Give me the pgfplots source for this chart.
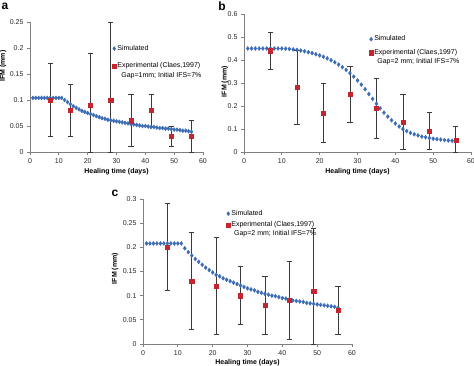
\documentclass[border=0pt]{standalone}
\usepackage{fontspec}
\setmainfont{Liberation Sans}
\usepackage{pgfplots}
\pgfplotsset{compat=1.18}
\usepackage{pgfplotstable}
\definecolor{simblue}{HTML}{3B6CB5}
\definecolor{expred}{HTML}{C4262E}
\definecolor{axgray}{HTML}{808080}
\definecolor{barcol}{HTML}{3A3A3A}

% experimental data: x, y, error plus, error minus
\pgfplotstableread{
x y ep em
7 0.10 0.07 0.07
14 0.08 0.05 0.05
21 0.09 0.10 0.09
28 0.10 0.15 0.10
35 0.06 0.05 0.05
42 0.08 0.03 0.03
49 0.03 0.02 0.02
56 0.03 0.03 0.03
}\expA
\pgfplotstableread{
x y ep em
7 0.44 0.08 0.08
14 0.28 0.16 0.16
21 0.17 0.13 0.13
28 0.25 0.12 0.12
35 0.19 0.13 0.13
42 0.13 0.12 0.12
49 0.09 0.08 0.08
56 0.05 0.06 0.05
}\expB
\pgfplotstableread{
x y ep em
7 0.20 0.09 0.09
14 0.13 0.10 0.10
21 0.12 0.10 0.10
28 0.10 0.06 0.06
35 0.08 0.06 0.06
42 0.09 0.08 0.08
49 0.11 0.13 0.11
56 0.07 0.05 0.05
}\expC

\pgfplotsset{
  panel/.style={
    scale only axis,
    axis x line*=bottom, axis y line*=left,
    axis line style={axgray, line width=0.8pt},
    tick style={axgray, line width=0.8pt},
    tick align=outside,
    major tick length=3pt,
    xmin=0, xmax=60, xtick={0,10,...,60},
    ymin=0,
    font=\fontsize{7}{8}\selectfont,
    tick label style={font=\fontsize{7}{8}\selectfont, text=black!85},
    /pgf/number format/assume math mode=true,
    yticklabel style={/pgf/number format/fixed, /pgf/number format/precision=2},
    xlabel={\textbf{Healing time (days)}},
    ylabel={\textbf{IFM (mm)}},
    clip=false,
    legend style={draw=none, fill=none, inner sep=0pt, anchor=north west,
      font=\fontsize{7}{8}\selectfont, nodes={inner sep=1pt}},
    legend cell align=left,
    legend image code/.code={\draw[#1] plot coordinates {(0pt,0pt)};},
  },
  sim/.style={only marks, mark=diamond*, mark size=2pt, color=simblue},
  expt/.style={only marks, mark=square*, mark size=2.1pt, color=expred,
    error bars/.cd, y dir=both, y explicit,
    error bar style={barcol, line width=0.8pt},
    error mark options={barcol, rotate=90, mark size=2.6pt, line width=0.8pt}},
}

\begin{document}
\begin{tikzpicture}
\path[use as bounding box] (0,0) rectangle (474pt,366pt);

% ---------------- panel a
\begin{axis}[panel, at={(30pt,214pt)}, anchor=south west, width=173pt, height=130pt,
  ymax=0.25, ytick={0,0.05,0.1,0.15,0.2,0.25},
  ylabel style={at={(axis description cs:-0.156,0.66)}, anchor=center},
  xlabel style={at={(axis description cs:0.5,-0.154)}, anchor=center},
  legend style={at={(axis description cs:0.474,0.83)}, row sep=9pt}]
\addplot[sim] coordinates {
(1,0.104)(2,0.104)(3,0.104)(4,0.104)(5,0.104)(6,0.104)(7,0.104)(8,0.104)(9,0.104)(10,0.104)(11,0.104)
(12,0.100)(13,0.096)(14,0.092)(15,0.088)(16,0.085)(17,0.082)(18,0.079)(19,0.077)(20,0.075)
(21,0.073)(22,0.071)(23,0.069)(24,0.067)(25,0.065)(26,0.064)(27,0.062)(28,0.061)(29,0.060)(30,0.059)
(31,0.058)(32,0.057)(33,0.056)(34,0.055)(35,0.054)(36,0.053)(37,0.052)(38,0.051)(39,0.050)(40,0.050)
(41,0.049)(42,0.048)(43,0.048)(44,0.047)(45,0.046)(46,0.046)(47,0.045)(48,0.045)(49,0.044)(50,0.043)
(51,0.043)(52,0.042)(53,0.041)(54,0.041)(55,0.040)(56,0.039)};
\addlegendentry{Simulated}
\addplot[expt] table[x=x, y=y, y error plus=ep, y error minus=em] {\expA};
\addlegendentry{Experimental (Claes,1997)}
\node[anchor=west, inner sep=0pt, font=\fontsize{7}{8}\selectfont] at (axis cs:31.6,0.146) {Gap=1mm; Initial IFS=7\%};
\end{axis}

% ---------------- panel b
\begin{axis}[panel, at={(244pt,214pt)}, anchor=south west, width=227pt, height=138pt,
  ymax=0.6, ytick={0,0.1,0.2,0.3,0.4,0.5,0.6},
  ylabel style={at={(axis description cs:-0.084,0.51)}, anchor=center},
  xlabel style={at={(axis description cs:0.5,-0.145)}, anchor=center},
  legend style={at={(axis description cs:0.55,0.85)}, row sep=5pt}]
\addplot[sim] coordinates {
(1,0.450)(2,0.450)(3,0.450)(4,0.450)(5,0.450)(6,0.450)(7,0.450)(8,0.450)(9,0.450)(10,0.450)
(11,0.449)(12,0.448)(13,0.446)(14,0.444)(15,0.441)(16,0.438)(17,0.434)(18,0.430)(19,0.425)(20,0.420)
(21,0.414)(22,0.407)(23,0.399)(24,0.390)(25,0.380)(26,0.369)(27,0.357)(28,0.343)(29,0.328)(30,0.311)
(31,0.293)(32,0.273)(33,0.252)(34,0.231)(35,0.210)(36,0.190)(37,0.171)(38,0.154)(39,0.138)(40,0.124)
(41,0.111)(42,0.100)(43,0.091)(44,0.083)(45,0.077)(46,0.072)(47,0.067)(48,0.064)(49,0.061)(50,0.058)
(51,0.056)(52,0.054)(53,0.052)(54,0.050)(55,0.049)(56,0.048)};
\addlegendentry{Simulated}
\addplot[expt] table[x=x, y=y, y error plus=ep, y error minus=em] {\expB};
\addlegendentry{Experimental (Claes,1997)}
\node[anchor=west, inner sep=0pt, font=\fontsize{7}{8}\selectfont] at (axis cs:35.2,0.391) {Gap=2 mm; Initial IFS=7\%};
\end{axis}

% ---------------- panel c
\begin{axis}[panel, at={(143pt,22pt)}, anchor=south west, width=209pt, height=145pt,
  ymax=0.3, ytick={0,0.05,0.1,0.15,0.2,0.25,0.3},
  ylabel style={at={(axis description cs:-0.134,0.52)}, anchor=center},
  xlabel style={at={(axis description cs:0.5,-0.131)}, anchor=center},
  legend style={at={(axis description cs:0.397,0.93)}, row sep=3pt}]
\addplot[sim] coordinates {
(1,0.208)(2,0.208)(3,0.208)(4,0.208)(5,0.208)(6,0.208)(7,0.208)(8,0.208)(9,0.208)(10,0.208)(11,0.208)
(12,0.198)(13,0.190)(14,0.183)(15,0.176)(16,0.170)(17,0.164)(18,0.158)(19,0.153)(20,0.148)
(21,0.143)(22,0.140)(23,0.136)(24,0.133)(25,0.130)(26,0.127)(27,0.124)(28,0.121)(29,0.118)(30,0.115)
(31,0.113)(32,0.111)(33,0.108)(34,0.106)(35,0.104)(36,0.102)(37,0.100)(38,0.099)(39,0.097)(40,0.095)
(41,0.094)(42,0.092)(43,0.090)(44,0.089)(45,0.088)(46,0.087)(47,0.085)(48,0.084)(49,0.083)(50,0.082)
(51,0.081)(52,0.080)(53,0.079)(54,0.078)(55,0.077)(56,0.075)};
\addlegendentry{Simulated}
\addplot[expt] table[x=x, y=y, y error plus=ep, y error minus=em] {\expC};
\addlegendentry{Experimental (Claes,1997)}
\node[anchor=west, inner sep=0pt, font=\fontsize{7}{8}\selectfont] at (axis cs:26.1,0.2276) {Gap=2 mm; Initial IFS=7\%};
\end{axis}

\node[font=\bfseries\fontsize{12}{12}\selectfont] at (5pt,360pt) {a};
\node[font=\bfseries\fontsize{12}{12}\selectfont] at (222pt,360pt) {b};
\node[font=\bfseries\fontsize{12}{12}\selectfont] at (115pt,173pt) {c};
\end{tikzpicture}
\end{document}
